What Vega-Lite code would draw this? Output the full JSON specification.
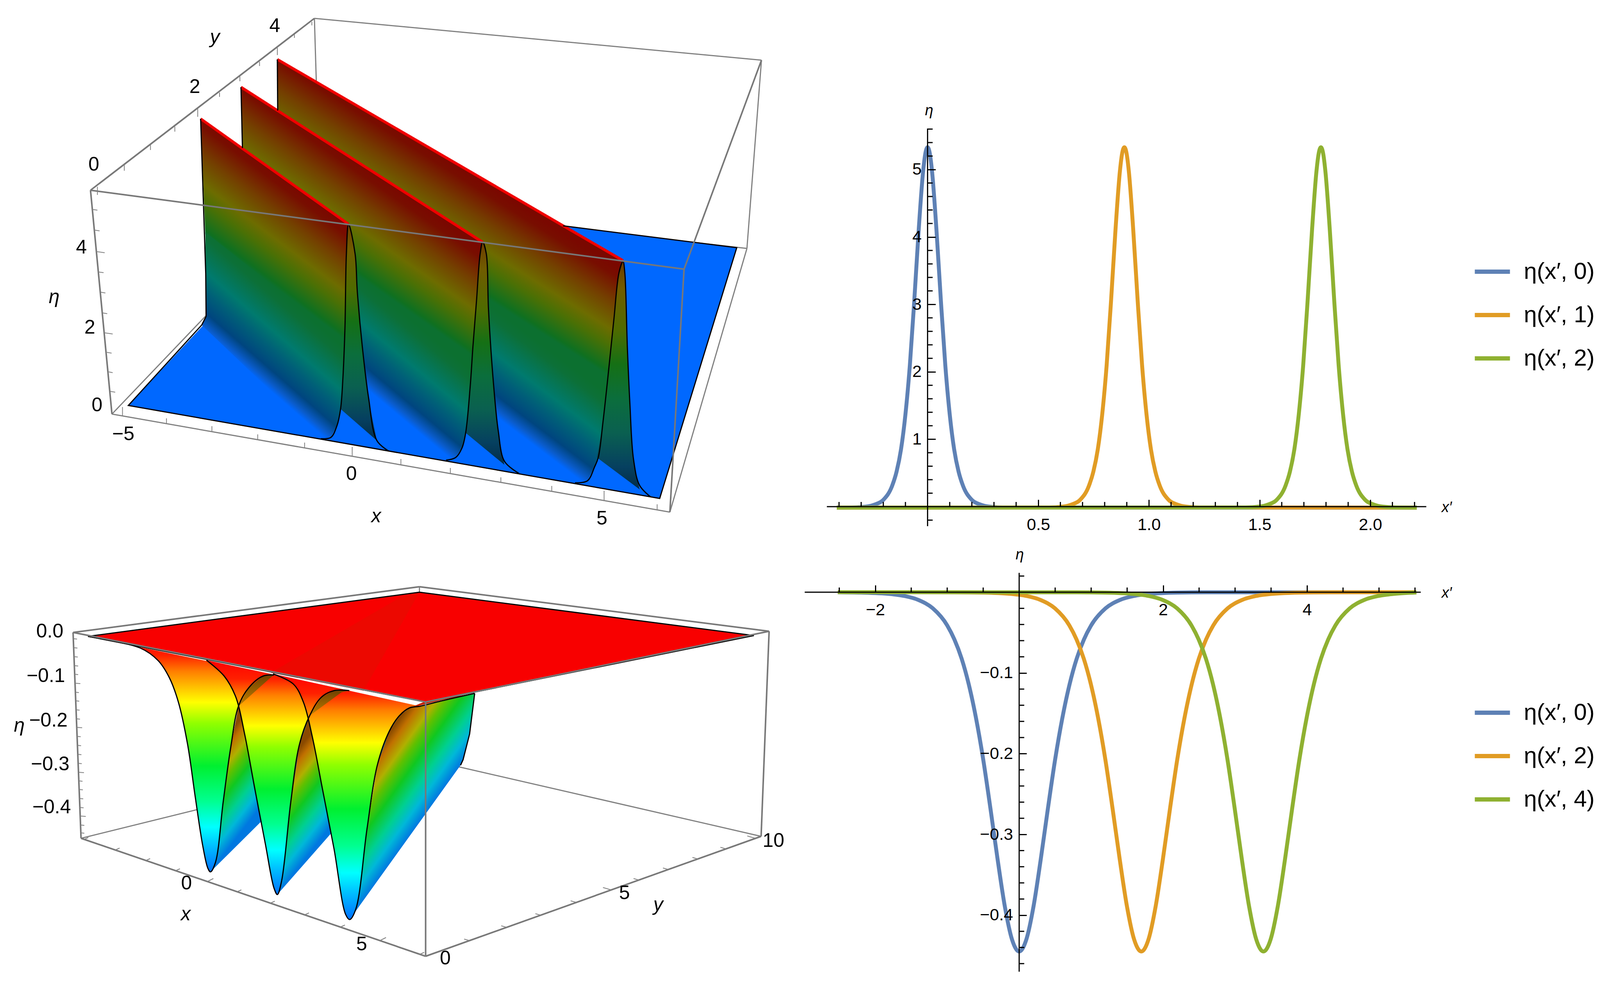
{
"$schema":"https://vega.github.io/schema/vega-lite/v6.json",
"padding":0,
"background":"white",
"width":4096,
"height":2519,
"autosize":{"type":"fit","contains":"padding"},
"resolve":{"scale":{"x":"independent","y":"independent","color":"independent"},"axis":{"x":"independent","y":"independent"},"legend":{"color":"independent"}},
"config":{"view":{"stroke":null},"font":"Liberation Sans","text":{"font":"Liberation Sans","color":"black"}},
"datasets":{
"tlBack":[{"x":865,"y":47,"x2":2095,"y2":154},{"x":865,"y":47,"x2":880,"y2":511},{"x":2095,"y":154,"x2":2055,"y2":636},{"x":2055,"y":636,"x2":872,"y2":511},{"x":308,"y":1060,"x2":872,"y2":511},{"x":308,"y":1060,"x2":1843,"y2":1311},{"x":1843,"y":1311,"x2":2055,"y2":636}],
"tlFront":[{"x":249,"y":487,"x2":865,"y2":47},{"x":249,"y":487,"x2":1882,"y2":689},{"x":2095,"y":154,"x2":1882,"y2":689},{"x":1882,"y":689,"x2":1843,"y2":1311},{"x":249,"y":487,"x2":308,"y2":1060}],
"tlTicks":[{"x":858,"y":56,"x2":858,"y2":65},{"x":810,"y":87,"x2":810,"y2":97},{"x":763,"y":120,"x2":763,"y2":141},{"x":714,"y":158,"x2":714,"y2":169},{"x":660,"y":194,"x2":660,"y2":208},{"x":604,"y":237,"x2":604,"y2":248},{"x":544,"y":277,"x2":544,"y2":299},{"x":481,"y":324,"x2":481,"y2":337},{"x":414,"y":370,"x2":414,"y2":384},{"x":342,"y":422,"x2":342,"y2":437},{"x":268,"y":478,"x2":268,"y2":499},
{"x":253,"y":536,"x2":268,"y2":538},{"x":260,"y":589,"x2":274,"y2":591},{"x":265,"y":644,"x2":288,"y2":647},{"x":270,"y":696,"x2":285,"y2":698},{"x":277,"y":748,"x2":290,"y2":750},{"x":282,"y":801,"x2":295,"y2":803},{"x":288,"y":852,"x2":310,"y2":855},{"x":294,"y":902,"x2":307,"y2":904},{"x":299,"y":952,"x2":310,"y2":954},{"x":304,"y":1002,"x2":317,"y2":1004},
{"x":337,"y":1042,"x2":337,"y2":1064},{"x":458,"y":1071,"x2":458,"y2":1085},{"x":583,"y":1091,"x2":583,"y2":1104},{"x":709,"y":1112,"x2":709,"y2":1126},{"x":838,"y":1133,"x2":838,"y2":1147},{"x":969,"y":1144,"x2":969,"y2":1167},{"x":1103,"y":1175,"x2":1103,"y2":1190},{"x":1239,"y":1198,"x2":1239,"y2":1212},{"x":1378,"y":1222,"x2":1378,"y2":1234},{"x":1518,"y":1244,"x2":1518,"y2":1258},{"x":1662,"y":1256,"x2":1662,"y2":1281},{"x":1808,"y":1291,"x2":1808,"y2":1305}],
"tlBlue":[{"x":353,"y":1038},{"x":892,"y":501},{"x":2027,"y":634},{"x":1815,"y":1276}],
"tlR3u":[{"x":763,"y":152},{"x":764,"y":408},{"x":1671,"y":987},{"x":1673,"y":961},{"x":1689,"y":817},{"x":1703,"y":698},{"x":1714,"y":669}],
"tlR3l":[{"x":764,"y":402},{"x":764,"y":606},{"x":1000,"y":788},{"x":1368,"y":1071},{"x":1582,"y":1236},{"x":1616,"y":1231},{"x":1636,"y":1195},{"x":1646,"y":1171},{"x":1659,"y":1080},{"x":1671,"y":981}],
"tlR2u":[{"x":663,"y":223},{"x":668,"y":492},{"x":1298,"y":933},{"x":1301,"y":889},{"x":1311,"y":770},{"x":1321,"y":650},{"x":1328,"y":620}],
"tlR2l":[{"x":668,"y":486},{"x":680,"y":700},{"x":800,"y":815},{"x":1010,"y":994},{"x":1227,"y":1178},{"x":1254,"y":1171},{"x":1271,"y":1147},{"x":1281,"y":1109},{"x":1294,"y":985},{"x":1298,"y":927}],
"tlR1u":[{"x":552,"y":304},{"x":565,"y":600},{"x":948,"y":882},{"x":949,"y":841},{"x":953,"y":650},{"x":959,"y":574}],
"tlR1l":[{"x":565,"y":594},{"x":566,"y":700},{"x":567,"y":810},{"x":555,"y":832},{"x":883,"y":1123},{"x":910,"y":1120},{"x":927,"y":1090},{"x":937,"y":1047},{"x":943,"y":975},{"x":948,"y":876}],
"tlInner":[
{"x":1642,"y":1171},{"x":1659,"y":1080},{"x":1673,"y":961},{"x":1689,"y":817},{"x":1703,"y":698},{"x":1714,"y":669},{"x":1719,"y":698},{"x":1726,"y":889},{"x":1733,"y":1033},{"x":1743,"y":1176},{"x":1760,"y":1253}],
"tlInner2":[
{"x":1281,"y":1108},{"x":1294,"y":985},{"x":1301,"y":889},{"x":1311,"y":770},{"x":1321,"y":650},{"x":1328,"y":620},{"x":1338,"y":650},{"x":1344,"y":793},{"x":1358,"y":985},{"x":1371,"y":1104},{"x":1388,"y":1190}],
"tlInner1":[
{"x":937,"y":1047},{"x":943,"y":975},{"x":949,"y":841},{"x":953,"y":650},{"x":959,"y":574},{"x":977,"y":650},{"x":983,"y":746},{"x":997,"y":889},{"x":1014,"y":1018},{"x":1037,"y":1128}],
"tlCrest":[{"x":552,"y":304,"x2":959,"y2":574},{"x":663,"y":223,"x2":1328,"y2":620},{"x":763,"y":152,"x2":1714,"y2":667}],
"tlCurves":[
{"p":"r1","x":883,"y":1123},{"p":"r1","x":910,"y":1120},{"p":"r1","x":927,"y":1090},{"p":"r1","x":937,"y":1047},{"p":"r1","x":943,"y":975},{"p":"r1","x":949,"y":841},{"p":"r1","x":953,"y":650},{"p":"r1","x":959,"y":574},{"p":"r1","x":977,"y":650},{"p":"r1","x":983,"y":746},{"p":"r1","x":997,"y":889},{"p":"r1","x":1014,"y":1018},{"p":"r1","x":1037,"y":1128},{"p":"r1","x":1070,"y":1155},
{"p":"r2","x":1227,"y":1178},{"p":"r2","x":1254,"y":1171},{"p":"r2","x":1271,"y":1147},{"p":"r2","x":1281,"y":1109},{"p":"r2","x":1294,"y":985},{"p":"r2","x":1301,"y":889},{"p":"r2","x":1311,"y":770},{"p":"r2","x":1321,"y":650},{"p":"r2","x":1328,"y":620},{"p":"r2","x":1338,"y":650},{"p":"r2","x":1344,"y":793},{"p":"r2","x":1358,"y":985},{"p":"r2","x":1371,"y":1104},{"p":"r2","x":1388,"y":1181},{"p":"r2","x":1428,"y":1212},
{"p":"r3","x":1582,"y":1236},{"p":"r3","x":1616,"y":1231},{"p":"r3","x":1636,"y":1195},{"p":"r3","x":1646,"y":1171},{"p":"r3","x":1659,"y":1080},{"p":"r3","x":1673,"y":961},{"p":"r3","x":1689,"y":817},{"p":"r3","x":1703,"y":698},{"p":"r3","x":1714,"y":669},{"p":"r3","x":1719,"y":698},{"p":"r3","x":1726,"y":889},{"p":"r3","x":1733,"y":1033},{"p":"r3","x":1743,"y":1176},{"p":"r3","x":1760,"y":1243},{"p":"r3","x":1790,"y":1272}],
"tlEdges":[
{"p":"s1","x":552,"y":304},{"p":"s1","x":566,"y":700},{"p":"s1","x":567,"y":810},{"p":"s1","x":555,"y":832},
{"p":"s2","x":663,"y":223},{"p":"s2","x":667,"y":379},
{"p":"s3","x":763,"y":152},{"p":"s3","x":764,"y":283},
{"p":"e1","x":555,"y":832},{"p":"e1","x":353,"y":1038},{"p":"e1","x":1815,"y":1276},{"p":"e1","x":2027,"y":634},{"p":"e1","x":1549,"y":578}],
"tlLabels":[{"x":756,"y":67,"t":"4"},{"x":536,"y":223,"t":"2"},{"x":258,"y":422,"t":"0"},{"x":224,"y":634,"t":"4"},{"x":247,"y":839,"t":"2"},{"x":267,"y":1038,"t":"0"},{"x":339,"y":1112,"t":"−5"},{"x":967,"y":1214,"t":"0"},{"x":1656,"y":1328,"t":"5"}],
"tlTitles":[{"x":591,"y":96,"t":"y"},{"x":149,"y":761,"t":"η"},{"x":1035,"y":1322,"t":"x"}],
"trLines":[
{"s":"η(x′, 0)","x":-0.41,"y":-0.015},{"s":"η(x′, 0)","x":-0.34,"y":-0.012},{"s":"η(x′, 0)","x":-0.28,"y":0},{"s":"η(x′, 0)","x":-0.24,"y":0.03},{"s":"η(x′, 0)","x":-0.2,"y":0.1},{"s":"η(x′, 0)","x":-0.16,"y":0.31},{"s":"η(x′, 0)","x":-0.14,"y":0.52},{"s":"η(x′, 0)","x":-0.12,"y":0.85},{"s":"η(x′, 0)","x":-0.1,"y":1.37},{"s":"η(x′, 0)","x":-0.08,"y":2.1},{"s":"η(x′, 0)","x":-0.06,"y":3.06},{"s":"η(x′, 0)","x":-0.04,"y":4.11},{"s":"η(x′, 0)","x":-0.02,"y":4.98},{"s":"η(x′, 0)","x":-0.01,"y":5.24},{"s":"η(x′, 0)","x":0,"y":5.33},{"s":"η(x′, 0)","x":0.01,"y":5.24},{"s":"η(x′, 0)","x":0.02,"y":4.98},{"s":"η(x′, 0)","x":0.04,"y":4.11},{"s":"η(x′, 0)","x":0.06,"y":3.06},{"s":"η(x′, 0)","x":0.08,"y":2.1},{"s":"η(x′, 0)","x":0.1,"y":1.37},{"s":"η(x′, 0)","x":0.12,"y":0.85},{"s":"η(x′, 0)","x":0.14,"y":0.52},{"s":"η(x′, 0)","x":0.16,"y":0.31},{"s":"η(x′, 0)","x":0.2,"y":0.1},{"s":"η(x′, 0)","x":0.24,"y":0.03},{"s":"η(x′, 0)","x":0.28,"y":0},{"s":"η(x′, 0)","x":0.34,"y":-0.012},{"s":"η(x′, 0)","x":2.21,"y":-0.015},
{"s":"η(x′, 1)","x":-0.41,"y":-0.015},{"s":"η(x′, 1)","x":0.549,"y":-0.012},{"s":"η(x′, 1)","x":0.609,"y":0},{"s":"η(x′, 1)","x":0.649,"y":0.03},{"s":"η(x′, 1)","x":0.689,"y":0.1},{"s":"η(x′, 1)","x":0.729,"y":0.31},{"s":"η(x′, 1)","x":0.749,"y":0.52},{"s":"η(x′, 1)","x":0.769,"y":0.85},{"s":"η(x′, 1)","x":0.789,"y":1.37},{"s":"η(x′, 1)","x":0.809,"y":2.1},{"s":"η(x′, 1)","x":0.829,"y":3.06},{"s":"η(x′, 1)","x":0.849,"y":4.11},{"s":"η(x′, 1)","x":0.869,"y":4.98},{"s":"η(x′, 1)","x":0.879,"y":5.24},{"s":"η(x′, 1)","x":0.889,"y":5.33},{"s":"η(x′, 1)","x":0.899,"y":5.24},{"s":"η(x′, 1)","x":0.909,"y":4.98},{"s":"η(x′, 1)","x":0.929,"y":4.11},{"s":"η(x′, 1)","x":0.949,"y":3.06},{"s":"η(x′, 1)","x":0.969,"y":2.1},{"s":"η(x′, 1)","x":0.989,"y":1.37},{"s":"η(x′, 1)","x":1.009,"y":0.85},{"s":"η(x′, 1)","x":1.029,"y":0.52},{"s":"η(x′, 1)","x":1.049,"y":0.31},{"s":"η(x′, 1)","x":1.089,"y":0.1},{"s":"η(x′, 1)","x":1.129,"y":0.03},{"s":"η(x′, 1)","x":1.169,"y":0},{"s":"η(x′, 1)","x":1.229,"y":-0.012},{"s":"η(x′, 1)","x":2.21,"y":-0.015},
{"s":"η(x′, 2)","x":-0.41,"y":-0.015},{"s":"η(x′, 2)","x":1.437,"y":-0.012},{"s":"η(x′, 2)","x":1.497,"y":0},{"s":"η(x′, 2)","x":1.537,"y":0.03},{"s":"η(x′, 2)","x":1.577,"y":0.1},{"s":"η(x′, 2)","x":1.617,"y":0.31},{"s":"η(x′, 2)","x":1.637,"y":0.52},{"s":"η(x′, 2)","x":1.657,"y":0.85},{"s":"η(x′, 2)","x":1.677,"y":1.37},{"s":"η(x′, 2)","x":1.697,"y":2.1},{"s":"η(x′, 2)","x":1.717,"y":3.06},{"s":"η(x′, 2)","x":1.737,"y":4.11},{"s":"η(x′, 2)","x":1.757,"y":4.98},{"s":"η(x′, 2)","x":1.767,"y":5.24},{"s":"η(x′, 2)","x":1.777,"y":5.33},{"s":"η(x′, 2)","x":1.787,"y":5.24},{"s":"η(x′, 2)","x":1.797,"y":4.98},{"s":"η(x′, 2)","x":1.817,"y":4.11},{"s":"η(x′, 2)","x":1.837,"y":3.06},{"s":"η(x′, 2)","x":1.857,"y":2.1},{"s":"η(x′, 2)","x":1.877,"y":1.37},{"s":"η(x′, 2)","x":1.897,"y":0.85},{"s":"η(x′, 2)","x":1.917,"y":0.52},{"s":"η(x′, 2)","x":1.937,"y":0.31},{"s":"η(x′, 2)","x":1.977,"y":0.1},{"s":"η(x′, 2)","x":2.017,"y":0.03},{"s":"η(x′, 2)","x":2.057,"y":0},{"s":"η(x′, 2)","x":2.117,"y":-0.012},{"s":"η(x′, 2)","x":2.21,"y":-0.015}],
"trAxis":[{"x":-0.455,"x2":2.253,"y":0,"y2":0},{"x":0,"x2":0,"y":-0.29,"y2":5.608}],
"trMinorX":[{"x":-0.4,"y":0},{"x":-0.3,"y":0},{"x":-0.2,"y":0},{"x":-0.1,"y":0},{"x":0.1,"y":0},{"x":0.2,"y":0},{"x":0.3,"y":0},{"x":0.4,"y":0},{"x":0.6,"y":0},{"x":0.7,"y":0},{"x":0.8,"y":0},{"x":0.9,"y":0},{"x":1.1,"y":0},{"x":1.2,"y":0},{"x":1.3,"y":0},{"x":1.4,"y":0},{"x":1.6,"y":0},{"x":1.7,"y":0},{"x":1.8,"y":0},{"x":1.9,"y":0},{"x":2.1,"y":0},{"x":2.2,"y":0}],
"trMinorY":[{"x":0,"y":-0.2},{"x":0,"y":0.2},{"x":0,"y":0.4},{"x":0,"y":0.6},{"x":0,"y":0.8},{"x":0,"y":1.2},{"x":0,"y":1.4},{"x":0,"y":1.6},{"x":0,"y":1.8},{"x":0,"y":2.2},{"x":0,"y":2.4},{"x":0,"y":2.6},{"x":0,"y":2.8},{"x":0,"y":3.2},{"x":0,"y":3.4},{"x":0,"y":3.6},{"x":0,"y":3.8},{"x":0,"y":4.2},{"x":0,"y":4.4},{"x":0,"y":4.6},{"x":0,"y":4.8},{"x":0,"y":5.2},{"x":0,"y":5.4},{"x":0,"y":5.6}],
"blBack":[{"x":223,"y":2146,"x2":1136,"y2":1936},{"x":1136,"y":1936,"x2":2094,"y2":2141},{"x":1154,"y":1502,"x2":1154,"y2":1516}],
"blFront":[{"x":201,"y":1619,"x2":1154,"y2":1502},{"x":1154,"y":1502,"x2":2116,"y2":1616},{"x":2116,"y":1616,"x2":1171,"y2":1797},{"x":201,"y":1619,"x2":1171,"y2":1797},{"x":2116,"y":1616,"x2":2094,"y2":2141},{"x":1171,"y":1797,"x2":1171,"y2":2448},{"x":201,"y":1619,"x2":223,"y2":2146},{"x":223,"y":2146,"x2":1171,"y2":2448},{"x":1171,"y":2448,"x2":2094,"y2":2141}],
"blTicks":[{"x":202,"y":1635,"x2":212,"y2":1636},{"x":203,"y":1658,"x2":213,"y2":1659},{"x":204,"y":1681,"x2":214,"y2":1682},{"x":205,"y":1704,"x2":215,"y2":1705},{"x":205,"y":1726,"x2":215,"y2":1727},{"x":206,"y":1749,"x2":221,"y2":1750},{"x":207,"y":1772,"x2":217,"y2":1773},{"x":208,"y":1794,"x2":218,"y2":1795},{"x":209,"y":1817,"x2":219,"y2":1818},{"x":210,"y":1840,"x2":220,"y2":1841},{"x":211,"y":1862,"x2":226,"y2":1863},{"x":212,"y":1885,"x2":222,"y2":1886},{"x":213,"y":1908,"x2":223,"y2":1909},{"x":214,"y":1931,"x2":224,"y2":1932},{"x":215,"y":1954,"x2":225,"y2":1955},{"x":216,"y":1977,"x2":231,"y2":1978},{"x":217,"y":1999,"x2":227,"y2":2000},{"x":218,"y":2021,"x2":228,"y2":2022},{"x":219,"y":2044,"x2":229,"y2":2045},{"x":220,"y":2067,"x2":230,"y2":2068},{"x":221,"y":2089,"x2":236,"y2":2090},{"x":222,"y":2112,"x2":232,"y2":2113},{"x":222,"y":2132,"x2":232,"y2":2133},
{"x":231,"y":2149,"x2":243,"y2":2144},{"x":317,"y":2176,"x2":329,"y2":2171},{"x":401,"y":2203,"x2":413,"y2":2198},{"x":483,"y":2229,"x2":495,"y2":2224},{"x":570,"y":2257,"x2":587,"y2":2249},{"x":652,"y":2283,"x2":664,"y2":2278},{"x":744,"y":2312,"x2":756,"y2":2307},{"x":838,"y":2342,"x2":850,"y2":2337},{"x":937,"y":2373,"x2":949,"y2":2368},{"x":1045,"y":2408,"x2":1062,"y2":2400},{"x":1155,"y":2443,"x2":1167,"y2":2438},
{"x":1171,"y":2448,"x2":1149,"y2":2442},{"x":1292,"y":2408,"x2":1277,"y2":2404},{"x":1394,"y":2374,"x2":1379,"y2":2370},{"x":1488,"y":2343,"x2":1473,"y2":2339},{"x":1585,"y":2310,"x2":1570,"y2":2306},{"x":1681,"y":2278,"x2":1659,"y2":2272},{"x":1758,"y":2253,"x2":1743,"y2":2249},{"x":1839,"y":2226,"x2":1824,"y2":2222},{"x":1920,"y":2199,"x2":1905,"y2":2195},{"x":1997,"y":2173,"x2":1982,"y2":2169},{"x":2078,"y":2146,"x2":2056,"y2":2140}],
"blWalls":[
{"p":"w1","x":579,"y":2232},{"p":"w1","x":593,"y":2207},{"p":"w1","x":614,"y":2053},{"p":"w1","x":635,"y":1912},{"p":"w1","x":656,"y":1808},{"p":"w1","x":684,"y":1761},{"p":"w1","x":723,"y":1731},{"p":"w1","x":754,"y":1728},{"p":"w1","x":900,"y":1800},{"p":"w1","x":830,"y":2000},
{"p":"w2","x":763,"y":2290},{"p":"w2","x":775,"y":2254},{"p":"w2","x":800,"y":2053},{"p":"w2","x":824,"y":1905},{"p":"w2","x":852,"y":1832},{"p":"w2","x":884,"y":1785},{"p":"w2","x":919,"y":1768},{"p":"w2","x":961,"y":1768},{"p":"w2","x":1100,"y":1850},{"p":"w2","x":1000,"y":2039},
{"p":"w3","x":962,"y":2354},{"p":"w3","x":979,"y":2327},{"p":"w3","x":1010,"y":2120},{"p":"w3","x":1038,"y":1959},{"p":"w3","x":1071,"y":1872},{"p":"w3","x":1099,"y":1832},{"p":"w3","x":1127,"y":1812},{"p":"w3","x":1155,"y":1808},{"p":"w3","x":1306,"y":1775},{"p":"w3","x":1292,"y":1879},{"p":"w3","x":1274,"y":1945},{"p":"w3","x":1267,"y":1959}],
"blFaces":[
{"p":"f1","x":242,"y":1629},{"p":"f1","x":386,"y":1659},{"p":"f1","x":435,"y":1691},{"p":"f1","x":466,"y":1735},{"p":"f1","x":491,"y":1798},{"p":"f1","x":516,"y":1905},{"p":"f1","x":537,"y":2039},{"p":"f1","x":558,"y":2166},{"p":"f1","x":572,"y":2223},{"p":"f1","x":579,"y":2232},{"p":"f1","x":593,"y":2207},{"p":"f1","x":614,"y":2053},{"p":"f1","x":635,"y":1912},{"p":"f1","x":656,"y":1808},{"p":"f1","x":684,"y":1761},{"p":"f1","x":723,"y":1731},{"p":"f1","x":754,"y":1728},
{"p":"f2","x":568,"y":1690},{"p":"f2","x":617,"y":1731},{"p":"f2","x":649,"y":1785},{"p":"f2","x":673,"y":1879},{"p":"f2","x":701,"y":2019},{"p":"f2","x":730,"y":2160},{"p":"f2","x":754,"y":2274},{"p":"f2","x":763,"y":2290},{"p":"f2","x":775,"y":2254},{"p":"f2","x":800,"y":2053},{"p":"f2","x":824,"y":1905},{"p":"f2","x":852,"y":1832},{"p":"f2","x":884,"y":1785},{"p":"f2","x":919,"y":1768},{"p":"f2","x":961,"y":1768},
{"p":"f3","x":751,"y":1725},{"p":"f3","x":807,"y":1751},{"p":"f3","x":835,"y":1798},{"p":"f3","x":859,"y":1885},{"p":"f3","x":887,"y":2019},{"p":"f3","x":919,"y":2173},{"p":"f3","x":951,"y":2341},{"p":"f3","x":962,"y":2354},{"p":"f3","x":979,"y":2327},{"p":"f3","x":1010,"y":2120},{"p":"f3","x":1038,"y":1959},{"p":"f3","x":1071,"y":1872},{"p":"f3","x":1099,"y":1832},{"p":"f3","x":1127,"y":1812},{"p":"f3","x":1155,"y":1808}],
"blWedges":[
{"p":"a","x":656,"y":1808},{"p":"a","x":684,"y":1761},{"p":"a","x":723,"y":1731},{"p":"a","x":754,"y":1728},{"p":"a","x":744,"y":1735},
{"p":"b","x":852,"y":1832},{"p":"b","x":884,"y":1785},{"p":"b","x":919,"y":1768},{"p":"b","x":961,"y":1768},{"p":"b","x":940,"y":1772}],
"blCap":[{"x":1120,"y":1815},{"x":1155,"y":1806},{"x":1211,"y":1793},{"x":1306,"y":1775},{"x":1171,"y":1795}],
"blPlane":[{"x":242,"y":1629},{"x":1154,"y":1516},{"x":2074,"y":1627},{"x":1171,"y":1797}],
"blBand":[{"x":745,"y":1722},{"x":1100,"y":1530},{"x":1154,"y":1516},{"x":1000,"y":1768}],
"blCurves":[
{"p":"d1","x":242,"y":1629},{"p":"d1","x":386,"y":1659},{"p":"d1","x":435,"y":1691},{"p":"d1","x":466,"y":1735},{"p":"d1","x":491,"y":1798},{"p":"d1","x":516,"y":1905},{"p":"d1","x":537,"y":2039},{"p":"d1","x":558,"y":2166},{"p":"d1","x":572,"y":2223},{"p":"d1","x":579,"y":2232},{"p":"d1","x":593,"y":2207},{"p":"d1","x":614,"y":2053},{"p":"d1","x":635,"y":1912},{"p":"d1","x":656,"y":1808},{"p":"d1","x":684,"y":1761},{"p":"d1","x":723,"y":1731},{"p":"d1","x":754,"y":1728},
{"p":"d2","x":568,"y":1690},{"p":"d2","x":617,"y":1731},{"p":"d2","x":649,"y":1785},{"p":"d2","x":673,"y":1879},{"p":"d2","x":701,"y":2019},{"p":"d2","x":730,"y":2160},{"p":"d2","x":754,"y":2274},{"p":"d2","x":763,"y":2290},{"p":"d2","x":775,"y":2254},{"p":"d2","x":800,"y":2053},{"p":"d2","x":824,"y":1905},{"p":"d2","x":852,"y":1832},{"p":"d2","x":884,"y":1785},{"p":"d2","x":919,"y":1768},{"p":"d2","x":961,"y":1768},
{"p":"d3","x":751,"y":1725},{"p":"d3","x":807,"y":1751},{"p":"d3","x":835,"y":1798},{"p":"d3","x":859,"y":1885},{"p":"d3","x":887,"y":2019},{"p":"d3","x":919,"y":2173},{"p":"d3","x":951,"y":2341},{"p":"d3","x":962,"y":2354},{"p":"d3","x":979,"y":2327},{"p":"d3","x":1010,"y":2120},{"p":"d3","x":1038,"y":1959},{"p":"d3","x":1071,"y":1872},{"p":"d3","x":1099,"y":1832},{"p":"d3","x":1127,"y":1812},{"p":"d3","x":1155,"y":1808},{"p":"d3","x":1211,"y":1795},{"p":"d3","x":1306,"y":1775}],
"blEdges":[
{"p":"d4","x":1306,"y":1775},{"p":"d4","x":1292,"y":1879},{"p":"d4","x":1274,"y":1945},{"p":"d4","x":1267,"y":1959},
{"p":"e","x":242,"y":1629},{"p":"e","x":1154,"y":1516},{"p":"e","x":2074,"y":1627},{"p":"e","x":1171,"y":1797},{"p":"e","x":242,"y":1629}],
"blLabels":[{"x":137,"y":1617,"t":"0.0"},{"x":126,"y":1731,"t":"−0.1"},{"x":133,"y":1845,"t":"−0.2"},{"x":138,"y":1957,"t":"−0.3"},{"x":142,"y":2067,"t":"−0.4"},{"x":513,"y":2262,"t":"0"},{"x":995,"y":2418,"t":"5"},{"x":1225,"y":2454,"t":"0"},{"x":1718,"y":2287,"t":"5"},{"x":2128,"y":2153,"t":"10"}],
"blTitles":[{"x":53,"y":1858,"t":"η"},{"x":511,"y":2341,"t":"x"},{"x":1811,"y":2317,"t":"y"}],
"brLines":[
{"s":"η(x′, 0)","x":-2.52,"y":-0.0001},{"s":"η(x′, 0)","x":-2.2,"y":-0.0005},{"s":"η(x′, 0)","x":-1.8,"y":-0.0022},{"s":"η(x′, 0)","x":-1.6,"y":-0.0046},{"s":"η(x′, 0)","x":-1.4,"y":-0.0096},{"s":"η(x′, 0)","x":-1.2,"y":-0.02},{"s":"η(x′, 0)","x":-1,"y":-0.0411},{"s":"η(x′, 0)","x":-0.9,"y":-0.0585},{"s":"η(x′, 0)","x":-0.8,"y":-0.0821},{"s":"η(x′, 0)","x":-0.7,"y":-0.1142},{"s":"η(x′, 0)","x":-0.6,"y":-0.1558},{"s":"η(x′, 0)","x":-0.5,"y":-0.207},{"s":"η(x′, 0)","x":-0.4,"y":-0.2674},{"s":"η(x′, 0)","x":-0.3,"y":-0.3307},{"s":"η(x′, 0)","x":-0.2,"y":-0.3888},{"s":"η(x′, 0)","x":-0.1,"y":-0.43},{"s":"η(x′, 0)","x":0,"y":-0.445},{"s":"η(x′, 0)","x":0.1,"y":-0.43},{"s":"η(x′, 0)","x":0.2,"y":-0.3888},{"s":"η(x′, 0)","x":0.3,"y":-0.3307},{"s":"η(x′, 0)","x":0.4,"y":-0.2674},{"s":"η(x′, 0)","x":0.5,"y":-0.207},{"s":"η(x′, 0)","x":0.6,"y":-0.1558},{"s":"η(x′, 0)","x":0.7,"y":-0.1142},{"s":"η(x′, 0)","x":0.8,"y":-0.0821},{"s":"η(x′, 0)","x":0.9,"y":-0.0585},{"s":"η(x′, 0)","x":1,"y":-0.0411},{"s":"η(x′, 0)","x":1.2,"y":-0.02},{"s":"η(x′, 0)","x":1.4,"y":-0.0096},{"s":"η(x′, 0)","x":1.6,"y":-0.0046},{"s":"η(x′, 0)","x":1.8,"y":-0.0022},{"s":"η(x′, 0)","x":2.2,"y":-0.0005},{"s":"η(x′, 0)","x":2.6,"y":-0.0001},{"s":"η(x′, 0)","x":5.52,"y":0},
{"s":"η(x′, 2)","x":-2.52,"y":0},{"s":"η(x′, 2)","x":-0.903,"y":-0.0001},{"s":"η(x′, 2)","x":-0.503,"y":-0.0005},{"s":"η(x′, 2)","x":-0.103,"y":-0.0022},{"s":"η(x′, 2)","x":0.097,"y":-0.0046},{"s":"η(x′, 2)","x":0.297,"y":-0.0096},{"s":"η(x′, 2)","x":0.497,"y":-0.02},{"s":"η(x′, 2)","x":0.697,"y":-0.0411},{"s":"η(x′, 2)","x":0.797,"y":-0.0585},{"s":"η(x′, 2)","x":0.897,"y":-0.0821},{"s":"η(x′, 2)","x":0.997,"y":-0.1142},{"s":"η(x′, 2)","x":1.097,"y":-0.1558},{"s":"η(x′, 2)","x":1.197,"y":-0.207},{"s":"η(x′, 2)","x":1.297,"y":-0.2674},{"s":"η(x′, 2)","x":1.397,"y":-0.3307},{"s":"η(x′, 2)","x":1.497,"y":-0.3888},{"s":"η(x′, 2)","x":1.597,"y":-0.43},{"s":"η(x′, 2)","x":1.697,"y":-0.445},{"s":"η(x′, 2)","x":1.797,"y":-0.43},{"s":"η(x′, 2)","x":1.897,"y":-0.3888},{"s":"η(x′, 2)","x":1.997,"y":-0.3307},{"s":"η(x′, 2)","x":2.097,"y":-0.2674},{"s":"η(x′, 2)","x":2.197,"y":-0.207},{"s":"η(x′, 2)","x":2.297,"y":-0.1558},{"s":"η(x′, 2)","x":2.397,"y":-0.1142},{"s":"η(x′, 2)","x":2.497,"y":-0.0821},{"s":"η(x′, 2)","x":2.597,"y":-0.0585},{"s":"η(x′, 2)","x":2.697,"y":-0.0411},{"s":"η(x′, 2)","x":2.897,"y":-0.02},{"s":"η(x′, 2)","x":3.097,"y":-0.0096},{"s":"η(x′, 2)","x":3.297,"y":-0.0046},{"s":"η(x′, 2)","x":3.497,"y":-0.0022},{"s":"η(x′, 2)","x":3.897,"y":-0.0005},{"s":"η(x′, 2)","x":4.297,"y":-0.0001},{"s":"η(x′, 2)","x":5.52,"y":0},
{"s":"η(x′, 4)","x":-2.52,"y":0},{"s":"η(x′, 4)","x":0.794,"y":-0.0001},{"s":"η(x′, 4)","x":1.194,"y":-0.0005},{"s":"η(x′, 4)","x":1.594,"y":-0.0022},{"s":"η(x′, 4)","x":1.794,"y":-0.0046},{"s":"η(x′, 4)","x":1.994,"y":-0.0096},{"s":"η(x′, 4)","x":2.194,"y":-0.02},{"s":"η(x′, 4)","x":2.394,"y":-0.0411},{"s":"η(x′, 4)","x":2.494,"y":-0.0585},{"s":"η(x′, 4)","x":2.594,"y":-0.0821},{"s":"η(x′, 4)","x":2.694,"y":-0.1142},{"s":"η(x′, 4)","x":2.794,"y":-0.1558},{"s":"η(x′, 4)","x":2.894,"y":-0.207},{"s":"η(x′, 4)","x":2.994,"y":-0.2674},{"s":"η(x′, 4)","x":3.094,"y":-0.3307},{"s":"η(x′, 4)","x":3.194,"y":-0.3888},{"s":"η(x′, 4)","x":3.294,"y":-0.43},{"s":"η(x′, 4)","x":3.394,"y":-0.445},{"s":"η(x′, 4)","x":3.494,"y":-0.43},{"s":"η(x′, 4)","x":3.594,"y":-0.3888},{"s":"η(x′, 4)","x":3.694,"y":-0.3307},{"s":"η(x′, 4)","x":3.794,"y":-0.2674},{"s":"η(x′, 4)","x":3.894,"y":-0.207},{"s":"η(x′, 4)","x":3.994,"y":-0.1558},{"s":"η(x′, 4)","x":4.094,"y":-0.1142},{"s":"η(x′, 4)","x":4.194,"y":-0.0821},{"s":"η(x′, 4)","x":4.294,"y":-0.0585},{"s":"η(x′, 4)","x":4.394,"y":-0.0411},{"s":"η(x′, 4)","x":4.594,"y":-0.02},{"s":"η(x′, 4)","x":4.794,"y":-0.0096},{"s":"η(x′, 4)","x":4.994,"y":-0.0046},{"s":"η(x′, 4)","x":5.194,"y":-0.0022},{"s":"η(x′, 4)","x":5.52,"y":-0.0004}],
"brAxis":[{"x":-2.98,"x2":5.58,"y":0,"y2":0},{"x":0,"x2":0,"y":-0.47,"y2":0.024}],
"brMinorX":[{"x":-2.5,"y":0},{"x":-1.5,"y":0},{"x":-1,"y":0},{"x":-0.5,"y":0},{"x":0.5,"y":0},{"x":1,"y":0},{"x":1.5,"y":0},{"x":2.5,"y":0},{"x":3,"y":0},{"x":3.5,"y":0},{"x":4.5,"y":0},{"x":5,"y":0},{"x":5.5,"y":0}],
"brMinorY":[{"x":0,"y":0.02},{"x":0,"y":-0.02},{"x":0,"y":-0.04},{"x":0,"y":-0.06},{"x":0,"y":-0.08},{"x":0,"y":-0.12},{"x":0,"y":-0.14},{"x":0,"y":-0.16},{"x":0,"y":-0.18},{"x":0,"y":-0.22},{"x":0,"y":-0.24},{"x":0,"y":-0.26},{"x":0,"y":-0.28},{"x":0,"y":-0.32},{"x":0,"y":-0.34},{"x":0,"y":-0.36},{"x":0,"y":-0.38},{"x":0,"y":-0.42},{"x":0,"y":-0.44},{"x":0,"y":-0.46}]
},
"layer":[
{
"encoding":{"x":{"field":"x","type":"quantitative","axis":null,"scale":{"domain":[0,4402],"nice":false,"zero":false}},"y":{"field":"y","type":"quantitative","axis":null,"scale":{"domain":[2519,0],"nice":false,"zero":false}}},
"layer":[
{"data":{"name":"tlBack"},"mark":{"type":"rule","color":"#808080","strokeWidth":3},"encoding":{"x2":{"field":"x2"},"y2":{"field":"y2"}}},
{"data":{"name":"tlBlue"},"mark":{"type":"line","fill":"#0068ff","strokeWidth":0},"encoding":{"order":{"value":null}}},
{"data":{"name":"tlR3u"},"mark":{"type":"line","strokeWidth":0,"fill":{"gradient":"linear","x1":0.5,"y1":0.6613,"x2":0.6617,"y2":0.4206,"stops":[{"offset":0,"color":"#0c7030"},{"offset":0.04,"color":"#0f7020"},{"offset":0.27,"color":"#4a7005"},{"offset":0.42,"color":"#6d6c00"},{"offset":0.67,"color":"#743f00"},{"offset":0.91,"color":"#780e00"},{"offset":1,"color":"#7a0800"}]}},"encoding":{"order":{"value":null}}},
{"data":{"name":"tlR3l"},"mark":{"type":"line","strokeWidth":0,"fill":{"gradient":"linear","x1":0.9,"y1":0.9786,"x2":1.058,"y2":0.7721,"stops":[{"offset":0,"color":"#0068ff"},{"offset":0.067,"color":"#0a5ccc"},{"offset":0.2,"color":"#00457f"},{"offset":0.4,"color":"#005f78"},{"offset":0.58,"color":"#007a6e"},{"offset":0.89,"color":"#0c7038"},{"offset":1,"color":"#0c7030"}]}},"encoding":{"order":{"value":null}}},
{"data":{"name":"tlInner"},"mark":{"type":"line","strokeWidth":0,"interpolate":"catmull-rom","fill":{"gradient":"linear","x1":0.5,"y1":0,"x2":0.5,"y2":1,"stops":[{"offset":0,"color":"#6e3c00"},{"offset":0.12,"color":"#705c00"},{"offset":0.3,"color":"#4f6b00"},{"offset":0.45,"color":"#157015"},{"offset":0.6,"color":"#0b6e3c"},{"offset":0.75,"color":"#0a6050"},{"offset":0.9,"color":"#064060"},{"offset":1,"color":"#022c48"}]}},"encoding":{"order":{"value":null}}},
{"data":{"name":"tlR2u"},"mark":{"type":"line","strokeWidth":0,"fill":{"gradient":"linear","x1":0.5,"y1":0.6905,"x2":0.682,"y2":0.3914,"stops":[{"offset":0,"color":"#0c7030"},{"offset":0.04,"color":"#0f7020"},{"offset":0.27,"color":"#4a7005"},{"offset":0.42,"color":"#6d6c00"},{"offset":0.67,"color":"#743f00"},{"offset":0.91,"color":"#780e00"},{"offset":1,"color":"#7a0800"}]}},"encoding":{"order":{"value":null}}},
{"data":{"name":"tlR2l"},"mark":{"type":"line","strokeWidth":0,"fill":{"gradient":"linear","x1":0.8873,"y1":0.981,"x2":1.0718,"y2":0.7195,"stops":[{"offset":0,"color":"#0068ff"},{"offset":0.067,"color":"#0a5ccc"},{"offset":0.2,"color":"#00457f"},{"offset":0.4,"color":"#005f78"},{"offset":0.58,"color":"#007a6e"},{"offset":0.89,"color":"#0c7038"},{"offset":1,"color":"#0c7030"}]}},"encoding":{"order":{"value":null}}},
{"data":{"name":"tlInner2"},"mark":{"type":"line","strokeWidth":0,"interpolate":"catmull-rom","fill":{"gradient":"linear","x1":0.5,"y1":0,"x2":0.5,"y2":1,"stops":[{"offset":0,"color":"#6e3c00"},{"offset":0.12,"color":"#705c00"},{"offset":0.3,"color":"#4f6b00"},{"offset":0.45,"color":"#157015"},{"offset":0.6,"color":"#0b6e3c"},{"offset":0.75,"color":"#0a6050"},{"offset":0.9,"color":"#064060"},{"offset":1,"color":"#022c48"}]}},"encoding":{"order":{"value":null}}},
{"data":{"name":"tlR1u"},"mark":{"type":"line","strokeWidth":0,"fill":{"gradient":"linear","x1":0.5,"y1":0.7448,"x2":0.7029,"y2":0.3331,"stops":[{"offset":0,"color":"#0c7030"},{"offset":0.04,"color":"#0f7020"},{"offset":0.27,"color":"#4a7005"},{"offset":0.42,"color":"#6d6c00"},{"offset":0.67,"color":"#743f00"},{"offset":0.91,"color":"#780e00"},{"offset":1,"color":"#7a0800"}]}},"encoding":{"order":{"value":null}}},
{"data":{"name":"tlR1l"},"mark":{"type":"line","strokeWidth":0,"fill":{"gradient":"linear","x1":0.8432,"y1":0.9857,"x2":1.0726,"y2":0.6044,"stops":[{"offset":0,"color":"#0068ff"},{"offset":0.067,"color":"#0a5ccc"},{"offset":0.2,"color":"#00457f"},{"offset":0.4,"color":"#005f78"},{"offset":0.58,"color":"#007a6e"},{"offset":0.89,"color":"#0c7038"},{"offset":1,"color":"#0c7030"}]}},"encoding":{"order":{"value":null}}},
{"data":{"name":"tlInner1"},"mark":{"type":"line","strokeWidth":0,"interpolate":"catmull-rom","fill":{"gradient":"linear","x1":0.5,"y1":0,"x2":0.5,"y2":1,"stops":[{"offset":0,"color":"#6e3c00"},{"offset":0.12,"color":"#705c00"},{"offset":0.3,"color":"#4f6b00"},{"offset":0.45,"color":"#157015"},{"offset":0.6,"color":"#0b6e3c"},{"offset":0.75,"color":"#0a6050"},{"offset":0.9,"color":"#064060"},{"offset":1,"color":"#022c48"}]}},"encoding":{"order":{"value":null}}},
{"data":{"name":"tlCrest"},"mark":{"type":"rule","color":"#f00000","strokeWidth":7},"encoding":{"x2":{"field":"x2"},"y2":{"field":"y2"}}},
{"data":{"name":"tlCurves"},"mark":{"type":"line","color":"black","strokeWidth":3,"interpolate":"catmull-rom"},"encoding":{"order":{"value":null},"detail":{"field":"p"}}},
{"data":{"name":"tlEdges"},"mark":{"type":"line","color":"black","strokeWidth":3},"encoding":{"order":{"value":null},"detail":{"field":"p"}}},
{"data":{"name":"tlFront"},"mark":{"type":"rule","color":"#787878","strokeWidth":4},"encoding":{"x2":{"field":"x2"},"y2":{"field":"y2"}}},
{"data":{"name":"tlTicks"},"mark":{"type":"rule","color":"#808080","strokeWidth":2},"encoding":{"x2":{"field":"x2"},"y2":{"field":"y2"}}},
{"data":{"name":"tlLabels"},"mark":{"type":"text","fontSize":50,"align":"center","baseline":"middle"},"encoding":{"text":{"field":"t"}}},
{"data":{"name":"tlTitles"},"mark":{"type":"text","fontSize":50,"fontStyle":"italic","align":"center","baseline":"middle"},"encoding":{"text":{"field":"t"}}},
{"data":{"name":"blBack"},"mark":{"type":"rule","color":"#808080","strokeWidth":3},"encoding":{"x2":{"field":"x2"},"y2":{"field":"y2"}}},
{"data":{"name":"blWalls"},"mark":{"type":"line","strokeWidth":0,"fill":{"gradient":"linear","x1":0,"y1":1,"x2":-0.28,"y2":0.637,"stops":[{"offset":0,"color":"#0078e0"},{"offset":0.15,"color":"#00b8d8"},{"offset":0.3,"color":"#00d090"},{"offset":0.5,"color":"#10c820"},{"offset":0.65,"color":"#60c000"},{"offset":0.75,"color":"#b0b000"},{"offset":0.9,"color":"#c07000"},{"offset":1,"color":"#8a4a00"}]}},"encoding":{"order":{"value":null},"detail":{"field":"p"}}},
{"data":{"name":"blFaces"},"mark":{"type":"line","strokeWidth":0,"interpolate":"catmull-rom","fill":{"gradient":"linear","x1":0.5,"y1":0,"x2":0.5,"y2":1,"stops":[{"offset":0,"color":"#ff0000"},{"offset":0.08,"color":"#ff2000"},{"offset":0.15,"color":"#ff8000"},{"offset":0.28,"color":"#ffff00"},{"offset":0.37,"color":"#90ff00"},{"offset":0.55,"color":"#00f030"},{"offset":0.7,"color":"#00ff90"},{"offset":0.81,"color":"#00ffff"},{"offset":0.9,"color":"#00b8ff"},{"offset":1,"color":"#0070ff"}]}},"encoding":{"order":{"value":null},"detail":{"field":"p"}}},
{"data":{"name":"blWedges"},"mark":{"type":"line","strokeWidth":0,"fill":{"gradient":"linear","x1":0.5,"y1":0,"x2":0.5,"y2":1,"stops":[{"offset":0,"color":"#704000"},{"offset":1,"color":"#c08000"}]}},"encoding":{"order":{"value":null},"detail":{"field":"p"}}},
{"data":{"name":"blCap"},"mark":{"type":"line","strokeWidth":0,"fill":"#c82000"},"encoding":{"order":{"value":null}}},
{"data":{"name":"blPlane"},"mark":{"type":"line","strokeWidth":0,"fill":"#f80000"},"encoding":{"order":{"value":null}}},
{"data":{"name":"blBand"},"mark":{"type":"line","strokeWidth":0,"fill":"#ec0800"},"encoding":{"order":{"value":null}}},
{"data":{"name":"blCurves"},"mark":{"type":"line","color":"black","strokeWidth":3,"interpolate":"catmull-rom"},"encoding":{"order":{"value":null},"detail":{"field":"p"}}},
{"data":{"name":"blEdges"},"mark":{"type":"line","color":"black","strokeWidth":3},"encoding":{"order":{"value":null},"detail":{"field":"p"}}},
{"data":{"name":"blFront"},"mark":{"type":"rule","color":"#787878","strokeWidth":4},"encoding":{"x2":{"field":"x2"},"y2":{"field":"y2"}}},
{"data":{"name":"blTicks"},"mark":{"type":"rule","color":"#808080","strokeWidth":2},"encoding":{"x2":{"field":"x2"},"y2":{"field":"y2"}}},
{"data":{"name":"blLabels"},"mark":{"type":"text","fontSize":50,"align":"center","baseline":"middle"},"encoding":{"text":{"field":"t"}}},
{"data":{"name":"blTitles"},"mark":{"type":"text","fontSize":50,"fontStyle":"italic","align":"center","baseline":"middle"},"encoding":{"text":{"field":"t"}}}
]},
{
"encoding":{
"x":{"field":"x","type":"quantitative","title":"x′","scale":{"domain":[-4.19048,3.03777],"nice":false,"zero":false},"axis":{"orient":"top","offset":-1297,"domain":false,"grid":false,"values":[0.5,1,1.5,2],"format":".1f","tickColor":"black","tickWidth":3,"tickSize":18,"labelPadding":-43,"labelBaseline":"top","labelFontSize":43,"labelFont":"Liberation Sans","labelColor":"black","labelOverlap":false,"labelFlush":false,"titleX":3703,"titleY":2,"titleFontSize":38,"titleFont":"Liberation Sans","titleFontStyle":"italic","titleFontWeight":"normal","titleColor":"black","titleBaseline":"middle","titleAlign":"center","zindex":1}},
"y":{"field":"y","type":"quantitative","title":"η","scale":{"domain":[-7.08,7.51448],"nice":false,"zero":false},"axis":{"orient":"right","offset":-1721,"domain":false,"grid":false,"values":[1,2,3,4,5],"format":"d","tickColor":"black","tickWidth":3,"tickSize":20,"labelPadding":-36,"labelAlign":"right","labelFontSize":43,"labelFont":"Liberation Sans","labelColor":"black","labelOverlap":false,"labelFlush":false,"titleX":3,"titleY":283,"titleAngle":0,"titleFontSize":38,"titleFont":"Liberation Sans","titleFontStyle":"italic","titleFontWeight":"normal","titleColor":"black","titleBaseline":"middle","titleAlign":"center","zindex":1}}},
"layer":[
{"data":{"name":"trLines"},"mark":{"type":"line","strokeWidth":10,"interpolate":"monotone"},"encoding":{"color":{"field":"s","type":"nominal","scale":{"domain":["η(x′, 0)","η(x′, 1)","η(x′, 2)"],"range":["#5e81b5","#e19c24","#8fb131"]},"legend":{"orient":"none","legendX":3770,"legendY":645,"title":null,"symbolType":"stroke","symbolSize":8100,"symbolStrokeWidth":11,"labelFontSize":60,"labelFont":"Liberation Sans","labelColor":"black","labelOffset":30,"rowPadding":30,"labelLimit":400}}}},
{"data":{"name":"trAxis"},"mark":{"type":"rule","color":"black","strokeWidth":3},"encoding":{"x2":{"field":"x2"},"y2":{"field":"y2"}}},
{"data":{"name":"trMinorX"},"mark":{"type":"tick","orient":"vertical","color":"black","size":12,"thickness":3,"yOffset":-6,"opacity":1}},
{"data":{"name":"trMinorY"},"mark":{"type":"tick","orient":"horizontal","color":"black","size":13,"thickness":3,"xOffset":6.5,"opacity":1}}
]},
{
"encoding":{
"x":{"field":"x","type":"quantitative","title":"x′","scale":{"domain":[-14.1616,8.07071],"nice":false,"zero":false},"axis":{"orient":"top","offset":-1516,"domain":false,"grid":false,"values":[-2,2,4],"format":"d","tickColor":"black","tickWidth":3,"tickSize":18,"labelPadding":-42,"labelBaseline":"top","labelFontSize":43,"labelFont":"Liberation Sans","labelColor":"black","labelOverlap":false,"labelFlush":false,"titleX":3703,"titleY":2,"titleFontSize":38,"titleFont":"Liberation Sans","titleFontStyle":"italic","titleFontWeight":"normal","titleColor":"black","titleBaseline":"middle","titleAlign":"center","zindex":1}},
"y":{"field":"y","type":"quantitative","title":"η","scale":{"domain":[-0.48524,0.73343],"nice":false,"zero":false},"axis":{"orient":"right","offset":-1487,"domain":false,"grid":false,"values":[-0.1,-0.2,-0.3,-0.4],"format":".1f","tickColor":"black","tickWidth":3,"tickSize":19,"labelPadding":-35,"labelAlign":"right","labelFontSize":43,"labelFont":"Liberation Sans","labelColor":"black","labelOverlap":false,"labelFlush":false,"titleX":1,"titleY":1420,"titleAngle":0,"titleFontSize":38,"titleFont":"Liberation Sans","titleFontStyle":"italic","titleFontWeight":"normal","titleColor":"black","titleBaseline":"middle","titleAlign":"center","zindex":1}}},
"layer":[
{"data":{"name":"brLines"},"mark":{"type":"line","strokeWidth":10,"interpolate":"monotone"},"encoding":{"color":{"field":"s","type":"nominal","scale":{"domain":["η(x′, 0)","η(x′, 2)","η(x′, 4)"],"range":["#5e81b5","#e19c24","#8fb131"]},"legend":{"orient":"none","legendX":3770,"legendY":1774,"title":null,"symbolType":"stroke","symbolSize":8100,"symbolStrokeWidth":11,"labelFontSize":60,"labelFont":"Liberation Sans","labelColor":"black","labelOffset":30,"rowPadding":30,"labelLimit":400}}}},
{"data":{"name":"brAxis"},"mark":{"type":"rule","color":"black","strokeWidth":3},"encoding":{"x2":{"field":"x2"},"y2":{"field":"y2"}}},
{"data":{"name":"brMinorX"},"mark":{"type":"tick","orient":"vertical","color":"black","size":12,"thickness":3,"yOffset":-6,"opacity":1}},
{"data":{"name":"brMinorY"},"mark":{"type":"tick","orient":"horizontal","color":"black","size":13,"thickness":3,"xOffset":6.5,"opacity":1}}
]}
]
}
